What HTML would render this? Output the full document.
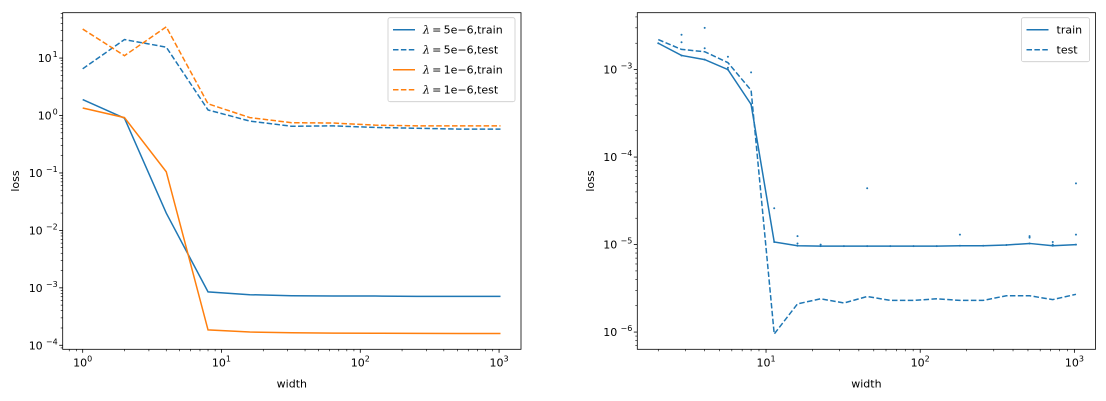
<!DOCTYPE html>
<html><head><meta charset="utf-8"><style>
body{margin:0;background:#fff;}
svg{display:block;font-family:"DejaVu Sans","Liberation Sans",sans-serif;}
</style></head><body>
<svg id="chart" width="1106" height="401"></svg>
<script>
// Left chart data
const leftX = [1,2,4,8,16,32,64,128,256,512,1024];
const blueTrain = [1.9,0.9,0.02,8.5e-4,7.6e-4,7.3e-4,7.2e-4,7.2e-4,7.1e-4,7.1e-4,7.1e-4];
const blueTest = [6.5,21,15.5,1.25,0.8,0.65,0.66,0.62,0.6,0.58,0.58];
const orangeTrain = [1.35,0.92,0.105,1.85e-4,1.7e-4,1.65e-4,1.63e-4,1.62e-4,1.61e-4,1.6e-4,1.6e-4];
const orangeTest = [32,11,35,1.6,0.92,0.75,0.74,0.68,0.66,0.66,0.66];
const leftYTicks = [-4,-3,-2,-1,0,1];
const leftXTicks = [0,1,2,3];
// Right chart data
const rightX = [2,2.83,4,5.66,8,11.3,16,22.6,32,45.3,64,90.5,128,181,256,362,512,724,1024];
const rightTrain = [2e-3,1.45e-3,1.3e-3,1.0e-3,4e-4,1.07e-5,9.7e-6,9.6e-6,9.6e-6,9.6e-6,9.6e-6,9.6e-6,9.6e-6,9.7e-6,9.7e-6,9.9e-6,1.03e-5,9.7e-6,1.0e-5];
const rightTest = [2.2e-3,1.7e-3,1.6e-3,1.2e-3,5.8e-4,9.5e-7,2.1e-6,2.4e-6,2.15e-6,2.55e-6,2.3e-6,2.3e-6,2.4e-6,2.3e-6,2.3e-6,2.6e-6,2.6e-6,2.35e-6,2.7e-6];
const dotX = [2.83,2.83,4,4,5.66,5.66,8,11.3,16,16,22.6,45.3,181,512,512,724,724,1024,1024];
const dotY = [2.5e-3,2.05e-3,3e-3,1.75e-3,1.4e-3,1.05e-3,9.3e-4,2.6e-5,1.25e-5,1.03e-5,1e-5,4.4e-5,1.3e-5,1.25e-5,1.2e-5,1.07e-5,1.0e-5,5e-5,1.3e-5];
const rightYTicks = [-6,-5,-4,-3];
const rightXTicks = [1,2,3];

const NS='http://www.w3.org/2000/svg';
const svg=document.getElementById('chart');
function mk(tag,attrs,parent){const e=document.createElementNS(NS,tag);for(const k in attrs)e.setAttribute(k,attrs[k]);(parent||svg).appendChild(e);return e;}
const BLUE='#1f77b4',ORANGE='#ff7f0e';
const FS=11;

function axes(cfg){
  const g=mk('g',{});
  
  
  const {L,R,T,B,xmin,xmax,ymin,ymax}=cfg;
  const sx=v=>L+(Math.log10(v)-xmin)/(xmax-xmin)*(R-L);
  const sy=v=>B-(Math.log10(v)-ymin)/(ymax-ymin)*(B-T);
  for(let d=Math.floor(xmin);d<=Math.ceil(xmax);d++)for(let m=2;m<10;m++){const lv=d+Math.log10(m);if(lv<xmin||lv>xmax)continue;const x=L+(lv-xmin)/(xmax-xmin)*(R-L);mk('line',{x1:x,x2:x,y1:B,y2:B+2,stroke:'#000','stroke-width':0.6},g);}
  for(let d=Math.floor(ymin);d<=Math.ceil(ymax);d++)for(let m=2;m<10;m++){const lv=d+Math.log10(m);if(lv<ymin||lv>ymax)continue;const y=B-(lv-ymin)/(ymax-ymin)*(B-T);mk('line',{x1:L-2,x2:L,y1:y,y2:y,stroke:'#000','stroke-width':0.6},g);}
  cfg.xt.forEach(p=>{const x=sx(Math.pow(10,p));mk('line',{x1:x,x2:x,y1:B,y2:B+3.5,stroke:'#000','stroke-width':0.8},g);
    const t=mk('text',{x:x,y:B+17,'font-size':FS,'text-anchor':'middle'},g);
    t.innerHTML='10<tspan dy="-5" font-size="8">'+p+'</tspan>';});
  cfg.yt.forEach(p=>{const y=sy(Math.pow(10,p));mk('line',{x1:L-3.5,x2:L,y1:y,y2:y,stroke:'#000','stroke-width':0.8},g);
    const t=mk('text',{x:L-5-(p<0?15:6),y:y+4,'font-size':FS,'text-anchor':'end'},g);
    t.innerHTML='10';const s=mk('tspan',{x:L-5,dy:-5,'font-size':8,'text-anchor':'end'},t);s.textContent=(p<0?'\u2212'+(-p):p);});
  cfg.series.forEach(s=>{
    const d=s.y.map((v,i)=>(i?'L':'M')+sx(s.x[i]).toFixed(2)+','+sy(v).toFixed(2)).join('');
    const p=mk('path',{d:d,fill:'none',stroke:s.c,'stroke-width':1.5,'stroke-dasharray':s.dash?'5.5,2.4':'none'},g);
    
  });
  if(cfg.dots){cfg.dots.x.forEach((v,i)=>{const c=mk('circle',{cx:sx(v),cy:sy(cfg.dots.y[i]),r:1,fill:BLUE},g);});
    cfg.series[0].x.forEach((v,i)=>{mk('circle',{cx:sx(v),cy:sy(cfg.series[0].y[i]),r:1,fill:BLUE},g);});}
  mk('rect',{x:L,y:T,width:R-L,height:B-T,fill:'none',stroke:'#000','stroke-width':0.8},g);
  const xl=mk('text',{x:(L+R)/2,y:B+38,'font-size':FS,'text-anchor':'middle'},g);xl.textContent='width';
  const yl=mk('text',{x:cfg.ylx,y:(T+B)/2,'font-size':FS,'text-anchor':'middle',transform:'rotate(-90 '+cfg.ylx+' '+(T+B)/2+')'},g);yl.textContent='loss';
  const lg=mk('g',{},g);
  const lw=cfg.legend.w,lx=R-6-lw,ly=T+5;
  mk('rect',{x:lx,y:ly,width:lw,height:cfg.legend.items.length*20+4,fill:'#fff','fill-opacity':0.8,stroke:'#ccc','stroke-width':0.8,rx:2},lg);
  cfg.legend.items.forEach((it,i)=>{const y=ly+12+i*20;
    const e=mk('g',{},lg);
    mk('line',{x1:lx+5,x2:lx+27,y1:y,y2:y,stroke:it.c,'stroke-width':1.5,'stroke-dasharray':it.dash?'5.5,2.4':'none'},e);
    const t=mk('text',{x:lx+35,y:y+4,'font-size':FS},e);t.innerHTML=it.label;});
}
const lam=(v,s)=>'<tspan font-style="italic" font-family="DejaVu Serif,serif">\u03bb</tspan>\u2009=\u2009'+v+'\u2212'+'6,'+s;
axes({name:'left-chart',L:62.7,R:521,T:12.7,B:349.3,xmin:-0.144,xmax:3.158,ymin:-4.07,ymax:1.79,xt:leftXTicks,yt:leftYTicks,ylx:19,
  series:[{name:'line-5e-6-train',x:leftX,y:blueTrain,c:BLUE},{name:'line-5e-6-test',x:leftX,y:blueTest,c:BLUE,dash:1},
          {name:'line-1e-6-train',x:leftX,y:orangeTrain,c:ORANGE},{name:'line-1e-6-test',x:leftX,y:orangeTest,c:ORANGE,dash:1}],
  legend:{w:127,items:[{c:BLUE,label:lam('5e','train')},{c:BLUE,dash:1,label:lam('5e','test')},{c:ORANGE,label:lam('1e','train')},{c:ORANGE,dash:1,label:lam('1e','test')}]}});
axes({name:'right-chart',L:637.3,R:1095.5,T:12.7,B:349.3,xmin:0.165,xmax:3.137,ymin:-6.197,ymax:-2.35,xt:rightXTicks,yt:rightYTicks,ylx:594,
  series:[{name:'line-train',x:rightX,y:rightTrain,c:BLUE},{name:'line-test',x:rightX,y:rightTest,c:BLUE,dash:1}],
  dots:{x:dotX,y:dotY},
  legend:{w:68,items:[{c:BLUE,label:'train'},{c:BLUE,dash:1,label:'test'}]}});
</script>
</body></html>
